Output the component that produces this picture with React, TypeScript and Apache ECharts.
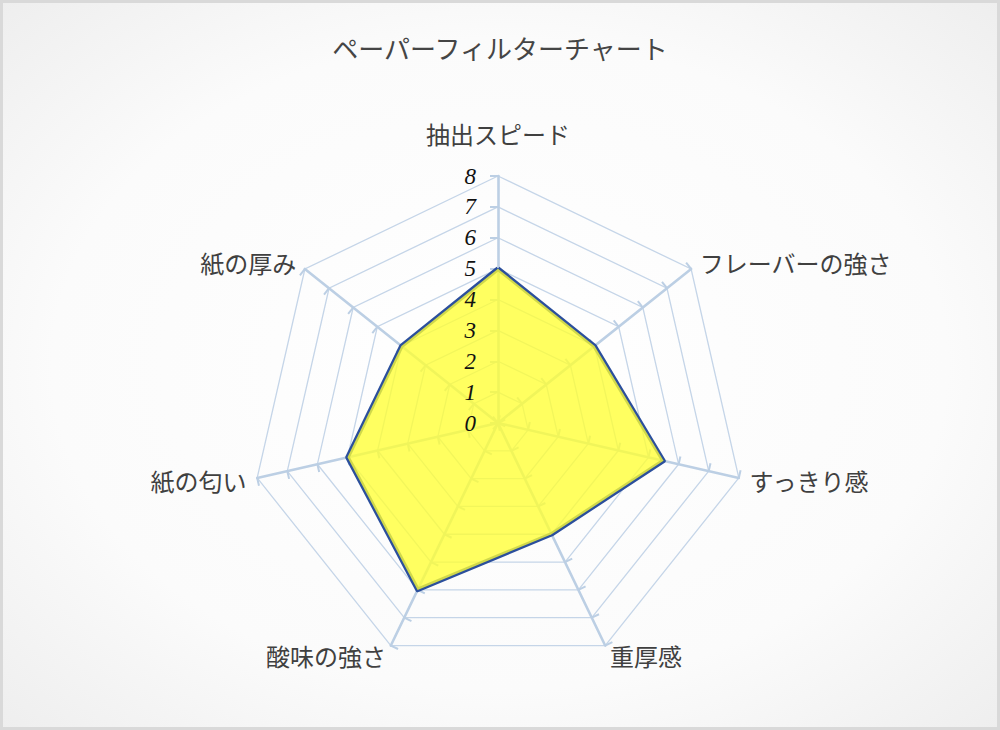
import { useEffect, useRef } from 'react'
import * as echarts from 'echarts'

const titleText = 'ペーパーフィルターチャート'
// clockwise from the top, as in the picture
const indicatorNames = ['抽出スピード', 'フレーバーの強さ', 'すっきり感', '重厚感', '酸味の強さ', '紙の匂い', '紙の厚み']
const seriesValues = [5, 4, 5.5, 4, 6, 5, 4]
const maxValue = 8
const tickStep = 1

const CJK = '"Noto Sans CJK JP", "Noto Sans", sans-serif'

// echarts lays radar indicators out counter-clockwise, so keep the first one and reverse the rest
const toCcw = <T,>(arr: T[]): T[] => [arr[0], ...arr.slice(1).reverse()]

export default function App() {
  const containerRef = useRef<HTMLDivElement>(null)

  useEffect(() => {
    document.body.style.margin = '0'
    if (!containerRef.current) return
    const chart = echarts.init(containerRef.current, null, { renderer: 'svg' })

    const center = [495, 420]
    const radius = 247
    const outline = { color: '#2b4f9c', width: 4.5 }

    chart.setOption({
      animation: false,
      backgroundColor: new echarts.graphic.RadialGradient(0.5, 0.5, 0.75, [
        { offset: 0, color: '#ffffff' },
        { offset: 0.6, color: '#fbfbfb' },
        { offset: 1, color: '#ececec' },
      ]),
      title: {
        text: titleText,
        left: 'center',
        top: 26,
        textStyle: {
          fontFamily: CJK,
          fontSize: 26,
          fontWeight: 'normal',
          color: '#454545',
        },
      },
      radar: {
        center,
        radius,
        startAngle: 90,
        shape: 'polygon',
        splitNumber: maxValue / tickStep,
        indicator: toCcw(indicatorNames).map((name) => ({ name, min: 0, max: maxValue })),
        axisName: {
          color: '#404040',
          fontFamily: CJK,
          fontSize: 24,
          formatter: (name: string) => (name === indicatorNames[0] ? `{top|${name}}` : name),
          rich: {
            top: {
              fontFamily: CJK,
              fontSize: 24,
              color: '#404040',
              padding: [0, 0, 20, 0],
            },
          },
        },
        nameGap: 11,
        splitArea: { show: false },
        splitLine: { lineStyle: { color: '#c5d5e8', width: 1.3 } },
        axisLine: { lineStyle: { color: '#bccfe4', width: 2.6 } },
        axisTick: { show: true, length: 8, lineStyle: { color: '#bccfe4', width: 2 } },
        axisLabel: { show: false },
      },
      polar: { center, radius },
      angleAxis: { show: false, startAngle: 90, min: 0, max: 360 },
      radiusAxis: {
        min: 0,
        max: maxValue,
        interval: tickStep,
        axisLine: { show: false },
        axisTick: { show: false },
        splitLine: { show: false },
        axisLabel: {
          show: true,
          margin: 22,
          color: '#111111',
          fontFamily: '"Liberation Serif", "DejaVu Serif", serif',
          fontStyle: 'italic',
          fontSize: 23,
        },
        z: 10,
      },
      series: [
        {
          type: 'radar',
          symbol: 'none',
          lineStyle: outline,
          areaStyle: { color: '#ffff33', opacity: 0.78 },
          data: [
            {
              value: toCcw(seriesValues),
              name: titleText,
              lineStyle: outline,
              areaStyle: { color: '#ffff33', opacity: 0.78 },
            },
          ],
          z: 3,
        },
      ],
    })

    const handleResize = () => chart.resize()
    window.addEventListener('resize', handleResize)
    return () => {
      window.removeEventListener('resize', handleResize)
      chart.dispose()
    }
  }, [])

  return (
    <div
      style={{
        width: 1000,
        height: 730,
        boxSizing: 'border-box',
        border: '3px solid #d9d9d9',
        background: '#f4f4f4',
      }}
    >
      <div ref={containerRef} style={{ width: 994, height: 724 }} />
    </div>
  )
}
